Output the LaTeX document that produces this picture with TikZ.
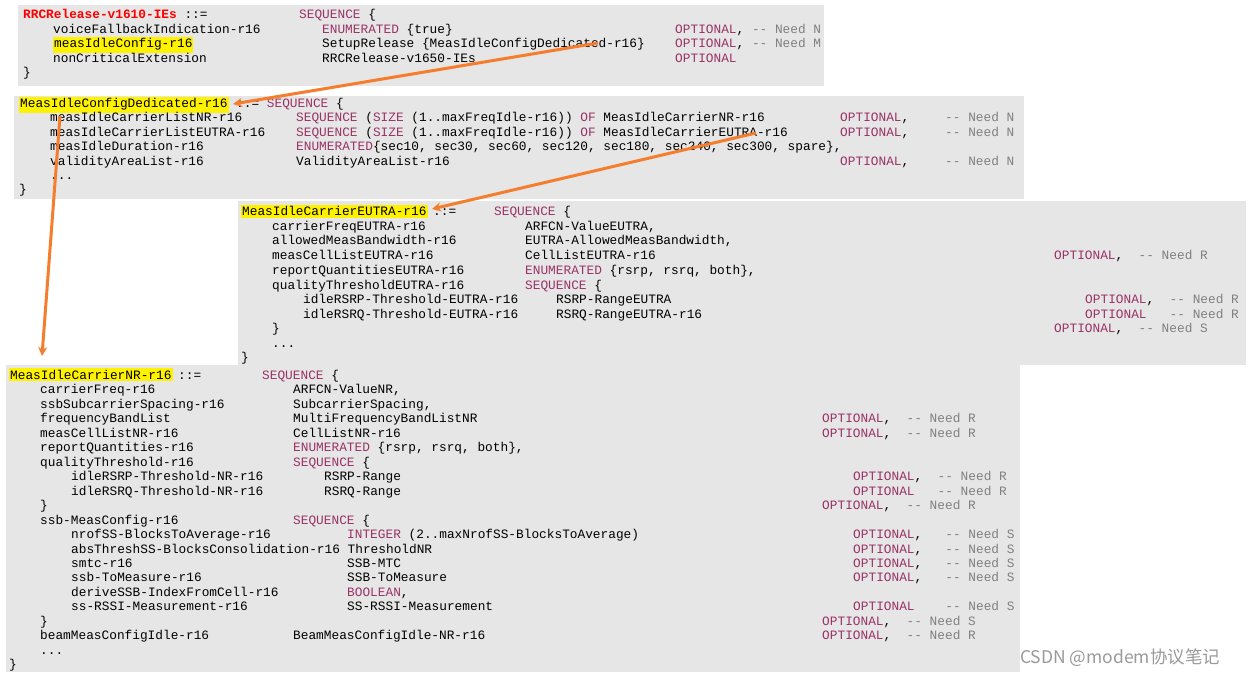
\documentclass[tikz,border=0pt]{standalone}
\usepackage{fontspec}
\usetikzlibrary{arrows.meta}
\setmainfont{Liberation Mono}
\newfontfamily\cjkf{Noto Sans CJK SC}
\definecolor{kw}{HTML}{993366}
\definecolor{cm}{HTML}{808080}
\definecolor{bgg}{HTML}{E6E6E6}
\definecolor{arr}{HTML}{F47D2E}
\newcommand\dd{-{}-}
\newcommand\KW[1]{\textcolor{kw}{#1}}
\newcommand\CM[1]{\textcolor{cm}{#1}}
\newcommand\TX[3]{\node[txt] at (#1,#2) {#3};}
\newcommand\HL[4]{\node[txt,fill=yellow,inner xsep=1pt,inner ysep=2pt] (#4) at (#1,#2) {#3};}
\tikzset{txt/.style={anchor=base west,inner sep=0pt,font=\fontsize{12.8}{14}\selectfont},
 blk/.style={fill=bgg,draw=none},
 orarrow/.style={draw=arr,line width=3pt,-{Stealth[length=9pt,width=9pt]}}}
\begin{document}
\begin{tikzpicture}[x=1pt,y=-1pt]
\useasboundingbox (0,0) rectangle (1252,676);
\fill[white] (0,0) rectangle (1252,676);
\fill[blk] (18,5) rectangle (824,86);
\fill[blk] (14,96) rectangle (1024,199);
\fill[blk] (238,201) rectangle (1246,365);
\fill[blk] (6,365) rectangle (1020,672);
% block 1
\TX{23}{19}{\textcolor{red}{\textbf{RRCRelease-v1610-IEs}} ::=}
\TX{299}{19}{\KW{SEQUENCE} \{}
\TX{53}{34}{voiceFallbackIndication-r16}
\TX{322}{34}{\KW{ENUMERATED} \{true\}}
\TX{675}{34}{\KW{OPTIONAL}, \CM{\dd{} Need N}}
\HL{53}{48}{measIdleConfig-r16}{h1}
\TX{322}{48}{SetupRelease \{MeasIdleConfigDedicated-r16\}}
\TX{675}{48}{\KW{OPTIONAL}, \CM{\dd{} Need M}}
\TX{53}{63}{nonCriticalExtension}
\TX{322}{63}{RRCRelease-v1650-IEs}
\TX{675}{63}{\KW{OPTIONAL}}
\TX{23}{77}{\}}
% block 2
\HL{19}{108}{MeasIdleConfigDedicated-r16}{h2}
\TX{236}{108}{::= \KW{SEQUENCE} \{}
\TX{50}{122}{measIdleCarrierListNR-r16}
\TX{296}{122}{\KW{SEQUENCE} (\KW{SIZE} (1..maxFreqIdle-r16)) \KW{OF} MeasIdleCarrierNR-r16}
\TX{840}{122}{\KW{OPTIONAL},}
\TX{945}{122}{\CM{\dd{} Need N}}
\TX{50}{137}{measIdleCarrierListEUTRA-r16}
\TX{296}{137}{\KW{SEQUENCE} (\KW{SIZE} (1..maxFreqIdle-r16)) \KW{OF} MeasIdleCarrierEUTRA-r16}
\TX{840}{137}{\KW{OPTIONAL},}
\TX{945}{137}{\CM{\dd{} Need N}}
\TX{50}{151}{measIdleDuration-r16}
\TX{296}{151}{\KW{ENUMERATED}\{sec10, sec30, sec60, sec120, sec180, sec240, sec300, spare\},}
\TX{50}{166}{validityAreaList-r16}
\TX{296}{166}{ValidityAreaList-r16}
\TX{840}{166}{\KW{OPTIONAL},}
\TX{945}{166}{\CM{\dd{} Need N}}
\TX{50}{180}{...}
\TX{19}{194}{\}}
% block 3
\HL{241}{216}{MeasIdleCarrierEUTRA-r16}{h3}
\TX{433}{216}{::=}
\TX{494}{216}{\KW{SEQUENCE} \{}
\TX{272}{231}{carrierFreqEUTRA-r16}
\TX{525}{231}{ARFCN-ValueEUTRA,}
\TX{272}{245}{allowedMeasBandwidth-r16}
\TX{525}{245}{EUTRA-AllowedMeasBandwidth,}
\TX{272}{260}{measCellListEUTRA-r16}
\TX{525}{260}{CellListEUTRA-r16}
\TX{1054}{260}{\KW{OPTIONAL},\ \ \CM{\dd{} Need R}}
\TX{272}{274}{reportQuantitiesEUTRA-r16}
\TX{525}{274}{\KW{ENUMERATED} \{rsrp, rsrq, both\},}
\TX{272}{289}{qualityThresholdEUTRA-r16}
\TX{525}{289}{\KW{SEQUENCE} \{}
\TX{303}{303}{idleRSRP-Threshold-EUTRA-r16}
\TX{556}{303}{RSRP-RangeEUTRA}
\TX{1085}{303}{\KW{OPTIONAL},\ \ \CM{\dd{} Need R}}
\TX{303}{318}{idleRSRQ-Threshold-EUTRA-r16}
\TX{556}{318}{RSRQ-RangeEUTRA-r16}
\TX{1085}{318}{\KW{OPTIONAL}\ \ \ \CM{\dd{} Need R}}
\TX{272}{332}{\}}
\TX{1054}{332}{\KW{OPTIONAL},\ \ \CM{\dd{} Need S}}
\TX{272}{347}{...}
\TX{241}{361}{\}}
% block 4
\HL{9}{379}{MeasIdleCarrierNR-r16}{h4}
\TX{178}{379}{::=}
\TX{262}{379}{\KW{SEQUENCE} \{}
\TX{40}{393}{carrierFreq-r16}
\TX{293}{393}{ARFCN-ValueNR,}
\TX{40}{408}{ssbSubcarrierSpacing-r16}
\TX{293}{408}{SubcarrierSpacing,}
\TX{40}{422}{frequencyBandList}
\TX{293}{422}{MultiFrequencyBandListNR}
\TX{822}{422}{\KW{OPTIONAL},\ \ \CM{\dd{} Need R}}
\TX{40}{437}{measCellListNR-r16}
\TX{293}{437}{CellListNR-r16}
\TX{822}{437}{\KW{OPTIONAL},\ \ \CM{\dd{} Need R}}
\TX{40}{451}{reportQuantities-r16}
\TX{293}{451}{\KW{ENUMERATED} \{rsrp, rsrq, both\},}
\TX{40}{466}{qualityThreshold-r16}
\TX{293}{466}{\KW{SEQUENCE} \{}
\TX{71}{480}{idleRSRP-Threshold-NR-r16}
\TX{324}{480}{RSRP-Range}
\TX{853}{480}{\KW{OPTIONAL},\ \ \CM{\dd{} Need R}}
\TX{71}{495}{idleRSRQ-Threshold-NR-r16}
\TX{324}{495}{RSRQ-Range}
\TX{853}{495}{\KW{OPTIONAL}\ \ \ \CM{\dd{} Need R}}
\TX{40}{509}{\}}
\TX{822}{509}{\KW{OPTIONAL},\ \ \CM{\dd{} Need R}}
\TX{40}{524}{ssb-MeasConfig-r16}
\TX{293}{524}{\KW{SEQUENCE} \{}
\TX{71}{538}{nrofSS-BlocksToAverage-r16}
\TX{347}{538}{\KW{INTEGER} (2..maxNrofSS-BlocksToAverage)}
\TX{853}{538}{\KW{OPTIONAL},\ \ \ \CM{\dd{} Need S}}
\TX{71}{553}{absThreshSS-BlocksConsolidation-r16 ThresholdNR}
\TX{853}{553}{\KW{OPTIONAL},\ \ \ \CM{\dd{} Need S}}
\TX{71}{567}{smtc-r16}
\TX{347}{567}{SSB-MTC}
\TX{853}{567}{\KW{OPTIONAL},\ \ \ \CM{\dd{} Need S}}
\TX{71}{581}{ssb-ToMeasure-r16}
\TX{347}{581}{SSB-ToMeasure}
\TX{853}{581}{\KW{OPTIONAL},\ \ \ \CM{\dd{} Need S}}
\TX{71}{596}{deriveSSB-IndexFromCell-r16}
\TX{347}{596}{\KW{BOOLEAN},}
\TX{71}{610}{ss-RSSI-Measurement-r16}
\TX{347}{610}{SS-RSSI-Measurement}
\TX{853}{610}{\KW{OPTIONAL}\ \ \ \ \CM{\dd{} Need S}}
\TX{40}{625}{\}}
\TX{822}{625}{\KW{OPTIONAL},\ \ \CM{\dd{} Need S}}
\TX{40}{639}{beamMeasConfigIdle-r16}
\TX{293}{639}{BeamMeasConfigIdle-NR-r16}
\TX{822}{639}{\KW{OPTIONAL},\ \ \CM{\dd{} Need R}}
\TX{40}{654}{...}
\TX{9}{668}{\}}
% watermark
\node[anchor=base west,inner sep=0pt,text=cm!80,font=\cjkf\fontsize{17.5}{19}\selectfont] (wm) at (1020,663) {CSDN @modem协议笔记};
% arrows
\coordinate (a1s) at (598,43);
\coordinate (a1e) at (233,104);
\coordinate (a2s) at (756,133);
\coordinate (a2e) at (432,209);
\coordinate (a3s) at (60,116);
\coordinate (a3e) at (42,356);
\draw[orarrow] (a1s) -- (a1e);
\draw[orarrow] (a2s) -- (a2e);
\draw[orarrow] (a3s) -- (a3e);
\end{tikzpicture}
\end{document}
